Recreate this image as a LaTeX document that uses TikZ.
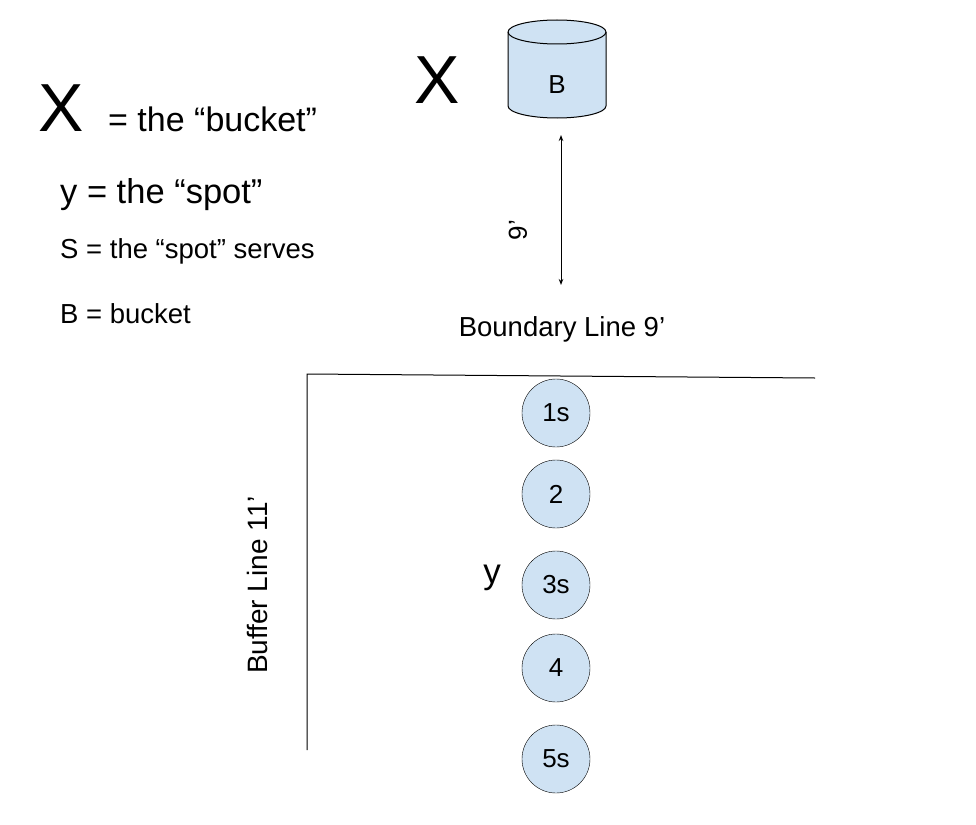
\documentclass[tikz,border=0pt]{standalone}
\usepackage{fontspec}
\setmainfont{Liberation Sans}
\usetikzlibrary{arrows.meta}
\definecolor{lb}{HTML}{CFE2F3}
\begin{document}
\begin{tikzpicture}[x=1pt,y=-1pt,
  spot/.style={circle,draw=black,fill=lb,minimum size=68pt,inner sep=0pt,font=\fontsize{26}{30}\selectfont},
  txt/.style={anchor=west,inner sep=0pt},
  ln/.style={line width=1pt}]
\useasboundingbox (0,0) rectangle (976,824);
% legend
\node[txt,font=\fontsize{68}{72}\selectfont] (X1) at (38,108) {X};
\node[txt,font=\fontsize{34}{38}\selectfont] (t1) at (108,119) {= the “bucket”};
\node[txt,font=\fontsize{34.5}{38}\selectfont] (t2) at (60,195) {y = the “spot”};
\node[txt,font=\fontsize{27.5}{32}\selectfont] (t3) at (60,251) {S = the “spot” serves};
\node[txt,font=\fontsize{27.5}{32}\selectfont] (t4) at (60,314) {B = bucket};
% bucket
\node[font=\fontsize{68}{72}\selectfont,inner sep=0pt] (X2) at (437,80) {X};
\filldraw[ln,fill=lb] (508,32) -- (508,106) arc[start angle=180,end angle=0,x radius=49,y radius=12] -- (606,32) arc[start angle=0,end angle=-180,x radius=49,y radius=12] -- cycle;
\draw[ln] (508,32) arc[start angle=180,end angle=0,x radius=49,y radius=12];
\node[font=\fontsize{26}{30}\selectfont] (B) at (557,85) {B};
\coordinate (a1) at (561,135);
\coordinate (a2) at (561,285);
\draw[ln,{Stealth[length=6pt]}-{Stealth[length=6pt]}] (a1) -- (a2);
\node[rotate=90,font=\fontsize{26}{30}\selectfont] (nine) at (518,230) {9’};
\node[font=\fontsize{27.5}{32}\selectfont] (bl) at (562,329) {Boundary Line 9’};
% lines
\coordinate (c0) at (307,374);
\coordinate (c1) at (815,378);
\coordinate (c2) at (307,750);
\draw[ln] (c1) -- (c0) -- (c2);
\node[rotate=90,font=\fontsize{28}{32}\selectfont] (bf) at (257,585) {Buffer Line 11’};
% spots
\node[spot] (s1) at (556,413) {1s};
\node[spot] (s2) at (556,494) {2};
\node[spot] (s3) at (556,585) {3s};
\node[spot] (s4) at (556,668) {4};
\node[spot] (s5) at (556,759) {5s};
\node[font=\fontsize{35}{40}\selectfont] (y) at (492,578) {y};
\end{tikzpicture}
\end{document}
